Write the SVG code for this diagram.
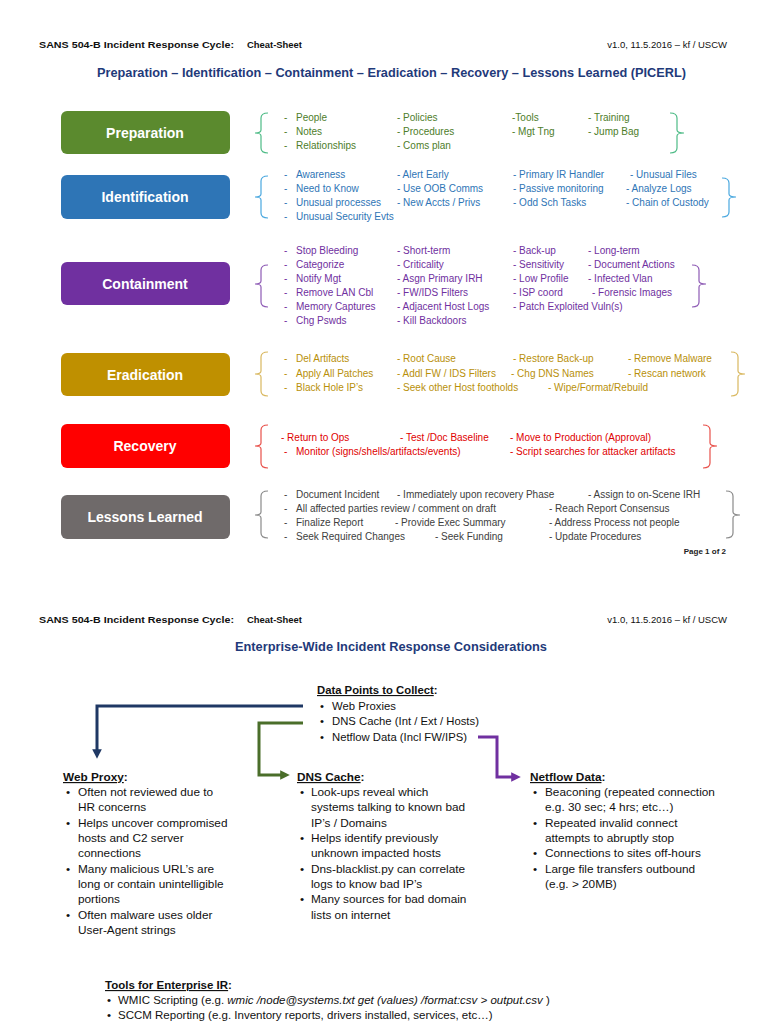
<svg xmlns="http://www.w3.org/2000/svg" width="768" height="1024" viewBox="0 0 768 1024">
<defs>
<style>
text{font-family:"Liberation Sans",Arial,sans-serif;}
.hdr{font-size:9.5px;fill:#111;}
.hdrb{font-size:9.5px;font-weight:bold;fill:#111;}
.title{font-size:13.5px;font-weight:bold;fill:#1f3a7a;}
.lbl{font-size:14px;font-weight:bold;fill:#fff;text-anchor:middle;}
.it{font-size:10px;}
.brace{fill:none;stroke-width:1.2;}
.prep{fill:#4e7d2a;} .ident{fill:#2e75b6;} .cont{fill:#7030a0;} .erad{fill:#b8900a;} .rec{fill:#e00000;} .less{fill:#404040;}
.b2{font-size:11.8px;fill:#111;}
.h2{font-size:11.8px;font-weight:bold;fill:#111;}
.u{text-decoration:underline;}
.conn{fill:none;stroke-width:3;}
</style>
<marker id="aNavy" viewBox="0 0 10 10" refX="5" refY="5" markerWidth="3.2" markerHeight="3.2" orient="auto"><path d="M0,0 L10,5 L0,10 z" fill="#1f3864"/></marker>
<marker id="aGreen" viewBox="0 0 10 10" refX="5" refY="5" markerWidth="3.2" markerHeight="3.2" orient="auto"><path d="M0,0 L10,5 L0,10 z" fill="#4a6e2a"/></marker>
<marker id="aPurple" viewBox="0 0 10 10" refX="5" refY="5" markerWidth="3.2" markerHeight="3.2" orient="auto"><path d="M0,0 L10,5 L0,10 z" fill="#7030a0"/></marker>
</defs>
<rect width="768" height="1024" fill="#fff"/>

<!-- Page 1 header -->
<g id="header1">
<text class="hdrb" x="39" y="48" textLength="195" lengthAdjust="spacingAndGlyphs">SANS 504-B Incident Response Cycle:</text>
<text class="hdrb" x="247" y="48" textLength="55" lengthAdjust="spacingAndGlyphs">Cheat-Sheet</text>
<text class="hdr" x="727" y="48" text-anchor="end">v1.0, 11.5.2016 – kf / USCW</text>
<text class="title" x="97" y="77" textLength="589" lengthAdjust="spacingAndGlyphs">Preparation – Identification – Containment – Eradication – Recovery – Lessons Learned (PICERL)</text>
</g>

<!-- Preparation -->
<g id="preparation">
<rect x="61" y="111" width="169" height="43" rx="6" fill="#5b8a2e"/>
<text class="lbl" x="145" y="138">Preparation</text>
<path class="brace" stroke="#4dbb86" d="M268,113 Q261,113 261,118 L261,130 Q261,133 255,133 Q261,133 261,136 L261,148 Q261,153 268,153"/>
<path class="brace" stroke="#4dbb86" d="M670,113 Q677,113 677,118 L677,130 Q677,133 684,133 Q677,133 677,136 L677,148 Q677,153 670,153"/>
<g class="it prep">
<text x="284" y="121">-<tspan x="296">People</tspan><tspan x="397">- Policies</tspan><tspan x="512">-Tools</tspan><tspan x="588">- Training</tspan></text>
<text x="284" y="135">-<tspan x="296">Notes</tspan><tspan x="397">- Procedures</tspan><tspan x="512">- Mgt Tng</tspan><tspan x="588">- Jump Bag</tspan></text>
<text x="284" y="149">-<tspan x="296">Relationships</tspan><tspan x="397">- Coms plan</tspan></text>
</g>
</g>

<!-- Identification -->
<g id="identification">
<rect x="61" y="175" width="169" height="44" rx="6" fill="#2e75b6"/>
<text class="lbl" x="145" y="202">Identification</text>
<path class="brace" stroke="#4aa8df" d="M268,176 Q261,176 261,181 L261,194 Q261,197 255,197 Q261,197 261,200 L261,213 Q261,218 268,218"/>
<path class="brace" stroke="#4aa8df" d="M722,178 Q729,178 729,183 L729,194 Q729,197 736,197 Q729,197 729,200 L729,212 Q729,217 722,217"/>
<g class="it ident">
<text x="284" y="178">-<tspan x="296">Awareness</tspan><tspan x="397">- Alert Early</tspan><tspan x="513">- Primary IR Handler</tspan><tspan x="630">- Unusual Files</tspan></text>
<text x="284" y="192">-<tspan x="296">Need to Know</tspan><tspan x="397">- Use OOB Comms</tspan><tspan x="513">- Passive monitoring</tspan><tspan x="626">- Analyze Logs</tspan></text>
<text x="284" y="206">-<tspan x="296">Unusual processes</tspan><tspan x="397">- New Accts / Privs</tspan><tspan x="513">- Odd Sch Tasks</tspan><tspan x="626">- Chain of Custody</tspan></text>
<text x="284" y="220">-<tspan x="296">Unusual Security Evts</tspan></text>
</g>
</g>

<!-- Containment -->
<g id="containment">
<rect x="61" y="262" width="169" height="43" rx="6" fill="#7030a0"/>
<text class="lbl" x="145" y="289">Containment</text>
<path class="brace" stroke="#8e5bb5" d="M268,265 Q261,265 261,270 L261,281 Q261,284 255,284 Q261,284 261,287 L261,302 Q261,307 268,307"/>
<path class="brace" stroke="#8e5bb5" d="M692,265 Q699,265 699,270 L699,281 Q699,284 706,284 Q699,284 699,287 L699,302 Q699,307 692,307"/>
<g class="it cont">
<text x="284" y="254">-<tspan x="296">Stop Bleeding</tspan><tspan x="397">- Short-term</tspan><tspan x="513">- Back-up</tspan><tspan x="588">- Long-term</tspan></text>
<text x="284" y="268">-<tspan x="296">Categorize</tspan><tspan x="397">- Criticality</tspan><tspan x="513">- Sensitivity</tspan><tspan x="588">- Document Actions</tspan></text>
<text x="284" y="282">-<tspan x="296">Notify Mgt</tspan><tspan x="397">- Asgn Primary IRH</tspan><tspan x="513">- Low Profile</tspan><tspan x="588">- Infected Vlan</tspan></text>
<text x="284" y="296">-<tspan x="296">Remove LAN Cbl</tspan><tspan x="397">- FW/IDS Filters</tspan><tspan x="513">- ISP coord</tspan><tspan x="592">- Forensic Images</tspan></text>
<text x="284" y="310">-<tspan x="296">Memory Captures</tspan><tspan x="397">- Adjacent Host Logs</tspan><tspan x="513">- Patch Exploited Vuln(s)</tspan></text>
<text x="284" y="324">-<tspan x="296">Chg Pswds</tspan><tspan x="397">- Kill Backdoors</tspan></text>
</g>
</g>

<!-- Eradication -->
<g id="eradication">
<rect x="61" y="353" width="169" height="43" rx="6" fill="#bf9000"/>
<text class="lbl" x="145" y="380">Eradication</text>
<path class="brace" stroke="#d9b860" d="M268,352 Q261,352 261,357 L261,371 Q261,374 255,374 Q261,374 261,377 L261,391 Q261,396 268,396"/>
<path class="brace" stroke="#d9b860" d="M731,352 Q738,352 738,357 L738,371 Q738,374 745,374 Q738,374 738,377 L738,391 Q738,396 731,396"/>
<g class="it erad">
<text x="284" y="362">-<tspan x="296">Del Artifacts</tspan><tspan x="397">- Root Cause</tspan><tspan x="513">- Restore Back-up</tspan><tspan x="628">- Remove Malware</tspan></text>
<text x="284" y="377">-<tspan x="296">Apply All Patches</tspan><tspan x="397">- Addl FW / IDS Filters</tspan><tspan x="511">- Chg DNS Names</tspan><tspan x="628">- Rescan network</tspan></text>
<text x="284" y="391">-<tspan x="296">Black Hole IP’s</tspan><tspan x="397">- Seek other Host footholds</tspan><tspan x="548">- Wipe/Format/Rebuild</tspan></text>
</g>
</g>

<!-- Recovery -->
<g id="recovery">
<rect x="61" y="424" width="169" height="44" rx="6" fill="#ff0000"/>
<text class="lbl" x="145" y="451">Recovery</text>
<path class="brace" stroke="#e8504a" d="M268,425 Q261,425 261,430 L261,443 Q261,446 255,446 Q261,446 261,449 L261,463 Q261,468 268,468"/>
<path class="brace" stroke="#e8504a" d="M703,425 Q710,425 710,430 L710,443 Q710,446 717,446 Q710,446 710,449 L710,463 Q710,468 703,468"/>
<g class="it rec">
<text x="281" y="441">- Return to Ops<tspan x="400">- Test /Doc Baseline</tspan><tspan x="510">- Move to Production (Approval)</tspan></text>
<text x="284" y="455">-<tspan x="296">Monitor (signs/shells/artifacts/events)</tspan><tspan x="510">- Script searches for attacker artifacts</tspan></text>
</g>
</g>

<!-- Lessons Learned -->
<g id="lessons-learned">
<rect x="61" y="495" width="169" height="44" rx="6" fill="#6f6a6a"/>
<text class="lbl" x="145" y="522">Lessons Learned</text>
<path class="brace" stroke="#8a8a8a" d="M268,491 Q261,491 261,496 L261,512 Q261,515 255,515 Q261,515 261,518 L261,533 Q261,538 268,538"/>
<path class="brace" stroke="#8a8a8a" d="M726,491 Q733,491 733,496 L733,512 Q733,515 740,515 Q733,515 733,518 L733,533 Q733,538 726,538"/>
<g class="it less">
<text x="284" y="498">-<tspan x="296">Document Incident</tspan><tspan x="397">- Immediately upon recovery Phase</tspan><tspan x="588">- Assign to on-Scene IRH</tspan></text>
<text x="284" y="512">-<tspan x="296">All affected parties review / comment on draft</tspan><tspan x="549">- Reach Report Consensus</tspan></text>
<text x="284" y="526">-<tspan x="296">Finalize Report</tspan><tspan x="395">- Provide Exec Summary</tspan><tspan x="549">- Address Process not people</tspan></text>
<text x="284" y="540">-<tspan x="296">Seek Required Changes</tspan><tspan x="435">- Seek Funding</tspan><tspan x="549">- Update Procedures</tspan></text>
</g>
<text x="726" y="554" text-anchor="end" style="font-size:8px;font-weight:bold;fill:#222">Page 1 of 2</text>
</g>

<!-- Page 2 header -->
<g id="header2">
<text class="hdrb" x="39" y="623" textLength="195" lengthAdjust="spacingAndGlyphs">SANS 504-B Incident Response Cycle:</text>
<text class="hdrb" x="247" y="623" textLength="55" lengthAdjust="spacingAndGlyphs">Cheat-Sheet</text>
<text class="hdr" x="727" y="623" text-anchor="end">v1.0, 11.5.2016 – kf / USCW</text>
<text class="title" x="235" y="651" textLength="312" lengthAdjust="spacingAndGlyphs" style="font-size:12.5px">Enterprise-Wide Incident Response Considerations</text>
</g>

<!-- Connectors -->
<g id="connectors">
<path class="conn" stroke="#1f3864" d="M303,706 L97,706 L97,754" marker-end="url(#aNavy)"/>
<path class="conn" stroke="#4a6e2a" d="M303,723 L259,723 L259,775 L285,775" marker-end="url(#aGreen)"/>
<path class="conn" stroke="#7030a0" d="M478,737 L497,737 L497,777 L516,777" marker-end="url(#aPurple)"/>
</g>

<!-- Data points -->
<g id="data-points">
<text class="h2" x="317" y="694" style="font-size:11.3px"><tspan class="u">Data Points to Collect</tspan>:</text>
<text class="b2" x="320" y="710" style="font-size:11.3px">•<tspan x="332">Web Proxies</tspan></text>
<text class="b2" x="320" y="725" style="font-size:11.3px">•<tspan x="332">DNS Cache (Int / Ext / Hosts)</tspan></text>
<text class="b2" x="320" y="741" style="font-size:11.3px">•<tspan x="332">Netflow Data (Incl FW/IPS)</tspan></text>
</g>

<!-- Web Proxy -->
<g id="web-proxy">
<text class="h2" x="63" y="781"><tspan class="u">Web Proxy</tspan>:</text>
<text class="b2" x="66" y="796">•<tspan x="78">Often not reviewed due to</tspan></text>
<text class="b2" x="78" y="811">HR concerns</text>
<text class="b2" x="66" y="827">•<tspan x="78">Helps uncover compromised</tspan></text>
<text class="b2" x="78" y="842">hosts and C2 server</text>
<text class="b2" x="78" y="857">connections</text>
<text class="b2" x="66" y="873">•<tspan x="78">Many malicious URL’s are</tspan></text>
<text class="b2" x="78" y="888">long or contain unintelligible</text>
<text class="b2" x="78" y="903">portions</text>
<text class="b2" x="66" y="919">•<tspan x="78">Often malware uses older</tspan></text>
<text class="b2" x="78" y="934">User-Agent strings</text>
</g>

<!-- DNS Cache -->
<g id="dns-cache">
<text class="h2" x="297" y="781"><tspan class="u">DNS Cache</tspan>:</text>
<text class="b2" x="300" y="796">•<tspan x="311">Look-ups reveal which</tspan></text>
<text class="b2" x="311" y="811">systems talking to known bad</text>
<text class="b2" x="311" y="827">IP’s / Domains</text>
<text class="b2" x="300" y="842">•<tspan x="311">Helps identify previously</tspan></text>
<text class="b2" x="311" y="857">unknown impacted hosts</text>
<text class="b2" x="300" y="873">•<tspan x="311">Dns-blacklist.py can correlate</tspan></text>
<text class="b2" x="311" y="888">logs to know bad IP’s</text>
<text class="b2" x="300" y="903">•<tspan x="311">Many sources for bad domain</tspan></text>
<text class="b2" x="311" y="919">lists on internet</text>
</g>

<!-- Netflow Data -->
<g id="netflow-data">
<text class="h2" x="530" y="781"><tspan class="u">Netflow Data</tspan>:</text>
<text class="b2" x="533" y="796">•<tspan x="545">Beaconing (repeated connection</tspan></text>
<text class="b2" x="545" y="811">e.g. 30 sec; 4 hrs; etc…)</text>
<text class="b2" x="533" y="827">•<tspan x="545">Repeated invalid connect</tspan></text>
<text class="b2" x="545" y="842">attempts to abruptly stop</text>
<text class="b2" x="533" y="857">•<tspan x="545">Connections to sites off-hours</tspan></text>
<text class="b2" x="533" y="873">•<tspan x="545">Large file transfers outbound</tspan></text>
<text class="b2" x="545" y="888">(e.g. &gt; 20MB)</text>
</g>

<!-- Tools -->
<g id="tools">
<text class="h2" x="105" y="989" style="font-size:11.5px"><tspan class="u">Tools for Enterprise IR</tspan>:</text>
<text class="b2" x="107" y="1004" style="font-size:11.5px">•<tspan x="118">WMIC Scripting (e.g. </tspan><tspan font-style="italic">wmic /node@systems.txt get (values) /format:csv &gt; output.csv</tspan> )</text>
<text class="b2" x="107" y="1019" style="font-size:11.5px">•<tspan x="118">SCCM Reporting (e.g. Inventory reports, drivers installed, services, etc…)</tspan></text>
</g>
</svg>
